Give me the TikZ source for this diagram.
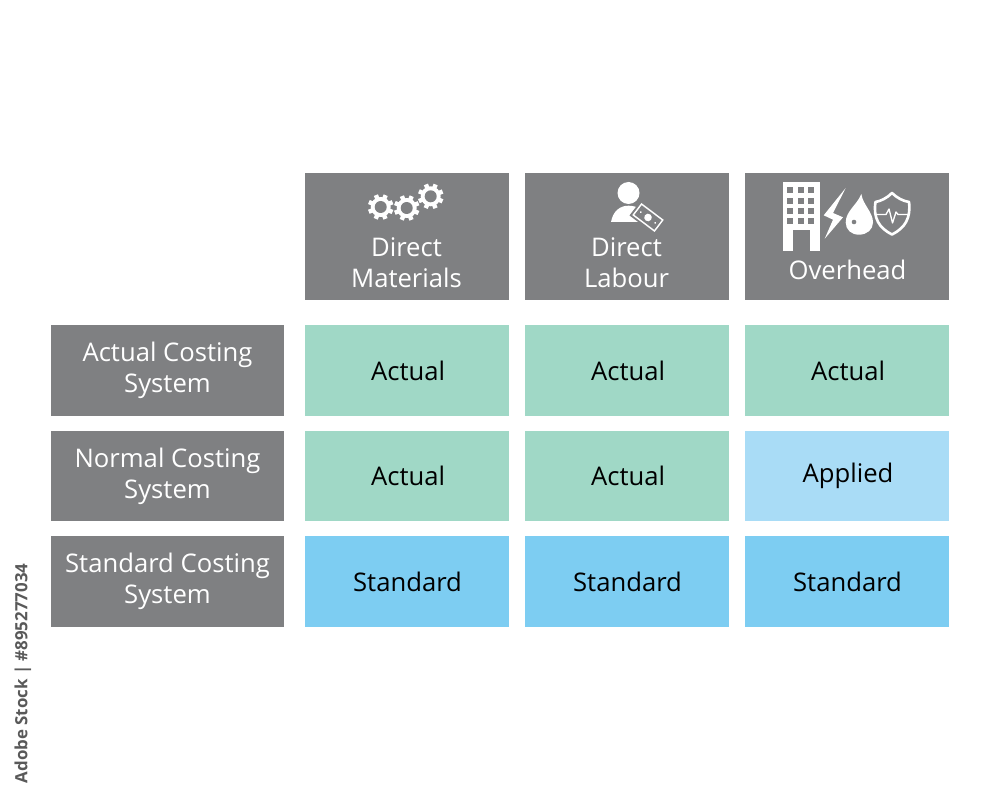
\documentclass[tikz,border=0pt]{standalone}
\usepackage{fontspec}
\setmainfont{Open Sans}
\definecolor{headgray}{HTML}{7F8082}
\definecolor{actualgreen}{HTML}{A0D8C6}
\definecolor{appliedblue}{HTML}{A9DCF6}
\definecolor{standardblue}{HTML}{7DCDF2}
\tikzset{
    headbox/.style={fill=headgray,minimum width=4.08cm,minimum height=2.54cm,inner sep=0pt},
    sidebox/.style={fill=headgray,minimum width=4.66cm,minimum height=1.82cm,inner sep=0pt,
        text=white,align=center,font=\fontsize{14.6}{17.6}\selectfont},
    cell/.style={minimum width=4.08cm,minimum height=1.82cm,inner sep=0pt,
        text=black,font=\fontsize{14.6}{17.6}\selectfont},
    headtext/.style={text=white,align=center,inner sep=0pt,font=\fontsize{14.6}{17.6}\selectfont},
}
\newcommand{\gearicon}[2]{
    \begin{scope}[shift={(#1,#2)}]
        \foreach \a in {0,45,...,315}{
            \fill[white,rotate=\a+22](-2.2,0)rectangle(2.2,12.8);
        }
        \fill[white](0,0)circle(10);
        \fill[headgray](0,0)circle(6);
    \end{scope}
}
\begin{document}
\begin{tikzpicture}[x=.02cm,y=-.02cm]
    \useasboundingbox(0,0)rectangle(1000,800);
    % header row
    \node[headbox](materials)at(407,236.5){};
    \node[headbox](labour)at(627,236.5){};
    \node[headbox](overhead)at(847,236.5){};
    \node[headtext](materialstext)at(406.5,263){Direct\\Materials};
    \node[headtext](labourtext)at(626.5,263){Direct\\Labour};
    \node[headtext](overheadtext)at(847.5,270){Overhead};
    % row labels
    \node[sidebox](actual)at(167.5,370.5){Actual Costing\\System};
    \node[sidebox](normal)at(167.5,476){Normal Costing\\System};
    \node[sidebox](standard)at(167.5,581.5){Standard Costing\\System};
    % cells
    \foreach \x/\n in {407/a,627/b,847/c}{
        \node[cell,fill=actualgreen](actual\n)at(\x,370.5){\hspace{1.2pt}Actual};
        \node[cell,fill=standardblue](standard\n)at(\x,581.5){\hspace{.6pt}Standard};
    }
    \foreach \x/\n in {407/a,627/b}{
        \node[cell,fill=actualgreen](normal\n)at(\x,476){\hspace{1.2pt}Actual};
    }
    \node[cell,fill=appliedblue](normalc)at(847,476){\hspace{1.2pt}Applied};
    % gears
    \gearicon{380.7}{207}
    \gearicon{406.7}{208}
    \gearicon{430.7}{196.3}
    % person with banknote
    \fill[white](628.5,193)circle(11);
    \fill[white](611,222)..controls(613,211)and(620,205.7)..(628.5,205.7)
        ..controls(637,205.7)and(645,210)..(648,218)--(648,222)--cycle;
    \begin{scope}[shift={(648,217.5)},rotate=-37]
        \fill[headgray](-16,-9.5)rectangle(16,9.5);
        \fill[white](-14,-7.6)rectangle(14,7.6);
        \fill[headgray](-12.4,-6)rectangle(12.4,6);
        \fill[white](0,0)circle(3.8);
        \fill[white](-9,0)circle(1);
        \fill[white](9,0)circle(1);
    \end{scope}
    % building
    \fill[white](782.7,182)rectangle(819.7,251.3);
    \fill[headgray](793,229.7)rectangle(809.7,251.3);
    \foreach \x in {787,797.5,808}{
        \foreach \y in {187.5,198,208,218}{
            \fill[headgray](\x,\y)rectangle(\x+6,\y+5.6);
        }
    }
    % bolt
    \fill[white](845.7,188)--(823.7,215.3)--(833,219.7)--(824.7,238.7)--(843,217.3)--(833,213)--cycle;
    % drop
    \fill[white](861.3,194)..controls(863,205)and(873,212)..(873,222.5)
        ..controls(873,229.5)and(867,234.7)..(859,234.7)
        ..controls(851,234.7)and(845.7,229.5)..(845.7,222.5)
        ..controls(845.7,211)and(857,205)..cycle;
    \fill[headgray](854,222)circle(2.3);
    % shield
    \draw[white,line width=1.5pt,line join=round](892,193)..controls(897,198)and(903,201)..(909,202)
        ..controls(911,218)and(905,228)..(892,234.5)
        ..controls(879,228)and(873,218)..(875.5,202)
        ..controls(881,201)and(887,198)..cycle;
    \draw[white,line width=.75pt,line join=round](876,214.5)--(886,214.5)--(889,209)--(892.5,223)--(896,212)--(898,214.5)--(908,214.5);
    % stock label
    \node[rotate=90,text=black!65,inner sep=0pt,font=\fontsize{9.6}{12}\selectfont\bfseries](stocklabel)at(23,673.5){Adobe Stock | \#895277034};
\end{tikzpicture}
\end{document}
